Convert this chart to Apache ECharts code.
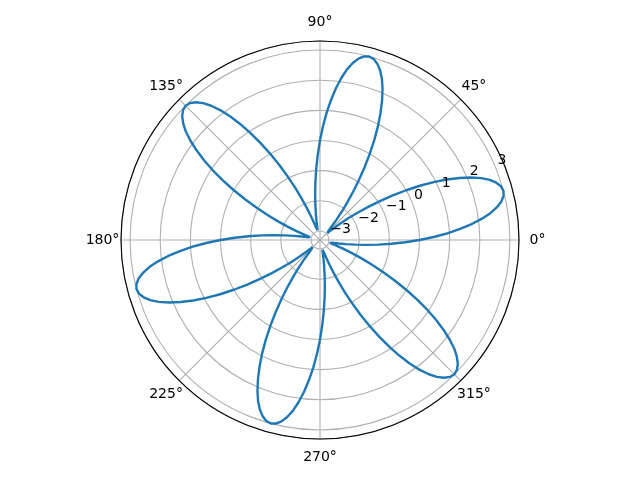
<!DOCTYPE html>
<html><head><meta charset="utf-8">
<script src="https://cdn.jsdelivr.net/npm/echarts@6/dist/echarts.min.js"></script>
<style>html,body{margin:0;padding:0;background:#fff}#c{width:640px;height:480px}</style>
</head><body><div id="c"></div>
<script>
// angle samples (degrees)
const thetaDeg = [
0,1.5,3,4.5,6,7.5,9,10.5,12,13.5,15,16.5,18,19.5,21,22.5,24,25.5,27,28.5,30,31.5,33,34.5,36,37.5,39,40.5,42,43.5,45,46.5,48,49.5,51,52.5,54,55.5,57,58.5,
60,61.5,63,64.5,66,67.5,69,70.5,72,73.5,75,76.5,78,79.5,81,82.5,84,85.5,87,88.5,90,91.5,93,94.5,96,97.5,99,100.5,102,103.5,105,106.5,108,109.5,111,112.5,114,115.5,117,118.5,
120,121.5,123,124.5,126,127.5,129,130.5,132,133.5,135,136.5,138,139.5,141,142.5,144,145.5,147,148.5,150,151.5,153,154.5,156,157.5,159,160.5,162,163.5,165,166.5,168,169.5,171,172.5,174,175.5,177,178.5,
180,181.5,183,184.5,186,187.5,189,190.5,192,193.5,195,196.5,198,199.5,201,202.5,204,205.5,207,208.5,210,211.5,213,214.5,216,217.5,219,220.5,222,223.5,225,226.5,228,229.5,231,232.5,234,235.5,237,238.5,
240,241.5,243,244.5,246,247.5,249,250.5,252,253.5,255,256.5,258,259.5,261,262.5,264,265.5,267,268.5,270,271.5,273,274.5,276,277.5,279,280.5,282,283.5,285,286.5,288,289.5,291,292.5,294,295.5,297,298.5,
300,301.5,303,304.5,306,307.5,309,310.5,312,313.5,315,316.5,318,319.5,321,322.5,324,325.5,327,328.5,330,331.5,333,334.5,336,337.5,339,340.5,342,343.5,345,346.5,348,349.5,351,352.5,354,355.5,357,358.5,360
];
// radius values
const rValues = [
0,0.47,0.93,1.36,1.76,2.12,2.43,2.67,2.85,2.96,3,2.96,2.85,2.67,2.43,2.12,1.76,1.36,0.93,0.47,0,-0.47,-0.93,-1.36,-1.76,-2.12,-2.43,-2.67,-2.85,-2.96,-3,-2.96,-2.85,-2.67,-2.43,-2.12,-1.76,-1.36,-0.93,-0.47,
0,0.47,0.93,1.36,1.76,2.12,2.43,2.67,2.85,2.96,3,2.96,2.85,2.67,2.43,2.12,1.76,1.36,0.93,0.47,0,-0.47,-0.93,-1.36,-1.76,-2.12,-2.43,-2.67,-2.85,-2.96,-3,-2.96,-2.85,-2.67,-2.43,-2.12,-1.76,-1.36,-0.93,-0.47,
0,0.47,0.93,1.36,1.76,2.12,2.43,2.67,2.85,2.96,3,2.96,2.85,2.67,2.43,2.12,1.76,1.36,0.93,0.47,0,-0.47,-0.93,-1.36,-1.76,-2.12,-2.43,-2.67,-2.85,-2.96,-3,-2.96,-2.85,-2.67,-2.43,-2.12,-1.76,-1.36,-0.93,-0.47,
0,0.47,0.93,1.36,1.76,2.12,2.43,2.67,2.85,2.96,3,2.96,2.85,2.67,2.43,2.12,1.76,1.36,0.93,0.47,0,-0.47,-0.93,-1.36,-1.76,-2.12,-2.43,-2.67,-2.85,-2.96,-3,-2.96,-2.85,-2.67,-2.43,-2.12,-1.76,-1.36,-0.93,-0.47,
0,0.47,0.93,1.36,1.76,2.12,2.43,2.67,2.85,2.96,3,2.96,2.85,2.67,2.43,2.12,1.76,1.36,0.93,0.47,0,-0.47,-0.93,-1.36,-1.76,-2.12,-2.43,-2.67,-2.85,-2.96,-3,-2.96,-2.85,-2.67,-2.43,-2.12,-1.76,-1.36,-0.93,-0.47,
0,0.47,0.93,1.36,1.76,2.12,2.43,2.67,2.85,2.96,3,2.96,2.85,2.67,2.43,2.12,1.76,1.36,0.93,0.47,0,-0.47,-0.93,-1.36,-1.76,-2.12,-2.43,-2.67,-2.85,-2.96,-3,-2.96,-2.85,-2.67,-2.43,-2.12,-1.76,-1.36,-0.93,-0.47,
0
];
const angleTickLabels = ['0°','45°','90°','135°','180°','225°','270°','315°'];
const radiusTickLabels = ['−3','−2','−1','0','1','2','3'];
const rMin = -3.3, rMax = 3.3;

const chart = echarts.init(document.getElementById('c'), null, {renderer:'canvas'});
const data = thetaDeg.map((t, i) => [rValues[i], t]);
const font = 'DejaVu Sans';
const isInt = v => Math.abs(v - Math.round(v)) < 1e-6;

chart.setOption({
  animation: false,
  backgroundColor: '#fff',
  polar: [
    {center: [320, 240], radius: [0, 199]},
    {center: [320, 240], radius: [0, 199]}
  ],
  angleAxis: [
    {polarIndex: 0, type: 'value', min: 0, max: 360, interval: 45, startAngle: 0, clockwise: false,
     axisLine: {show: true, lineStyle: {color: '#000', width: 1.1}},
     axisTick: {show: false},
     axisLabel: {show: true, margin: 18, color: '#000', fontFamily: font, fontSize: 14,
       formatter: v => (v >= 360 ? '' : '{t|' + angleTickLabels[Math.round(v / 45)] + '}'),
       rich: {t: {width: 1, height: 1, lineHeight: 1, align: 'center', verticalAlign: 'middle',
                  color: '#000', fontFamily: font, fontSize: 14}}},
     splitLine: {show: true, lineStyle: {color: '#b0b0b0', width: 1.1}},
     z: 1},
    {polarIndex: 1, type: 'value', min: 0, max: 360, startAngle: 22.5, clockwise: false, show: false}
  ],
  radiusAxis: [
    {polarIndex: 0, type: 'value', min: rMin, max: rMax, splitNumber: 6,
     axisLine: {show: false}, axisTick: {show: false}, axisLabel: {show: false},
     splitLine: {show: true, lineStyle: {color: '#b0b0b0', width: 1.1}}, z: 0},
    {polarIndex: 1, type: 'value', min: rMin, max: rMax, splitNumber: 6,
     axisLine: {show: false}, axisTick: {show: false}, splitLine: {show: false},
     axisLabel: {show: true, margin: 0, align: 'left', verticalAlign: 'bottom', color: '#000',
       fontFamily: font, fontSize: 14, padding: [0, 0, 0, 2],
       formatter: v => (isInt(v) ? radiusTickLabels[Math.round(v) + 3] : '')},
     z: 10}
  ],
  series: [{
    type: 'line', coordinateSystem: 'polar', polarIndex: 0, data: data,
    showSymbol: false, symbol: 'none', clip: false,
    lineStyle: {color: '#1f77b4', width: 2.4}, z: 3
  }]
});
</script>
</body></html>
